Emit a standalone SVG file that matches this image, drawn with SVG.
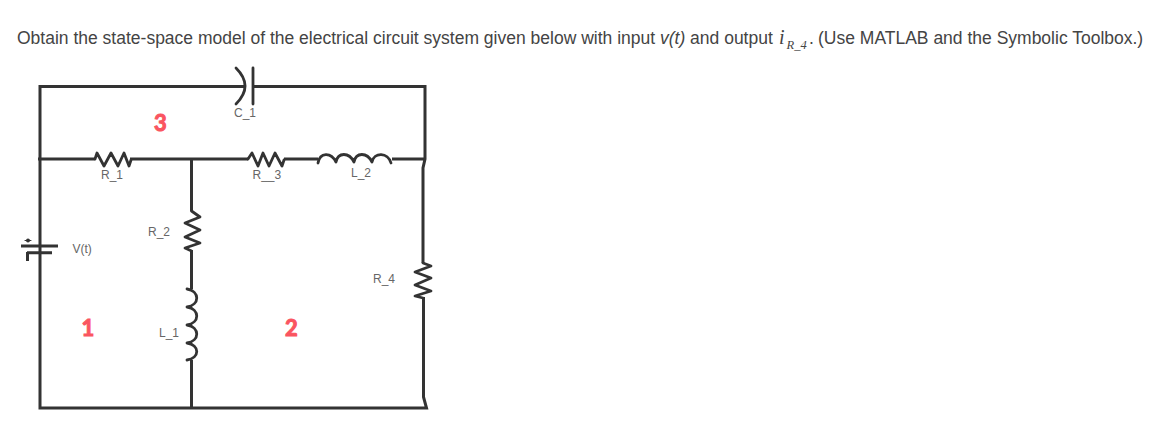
<svg xmlns="http://www.w3.org/2000/svg" width="1159" height="440" viewBox="0 0 1159 440">
<style>
.w{fill:none;stroke:#333;stroke-width:3;stroke-linejoin:miter;stroke-linecap:butt}
.c{fill:none;stroke:#333;stroke-width:2.8;stroke-linecap:round;stroke-linejoin:round}
.l{font-family:"Liberation Sans",Arial,sans-serif;font-size:12px;fill:#666}
.n{font-family:Lato,sans-serif;font-weight:700;font-size:22px;fill:#fa5560;stroke:#fa5560;stroke-width:1;text-anchor:middle}
.q{font-family:"Liberation Sans",Arial,sans-serif;font-size:17.5px;fill:#444}
.m{font-family:"Liberation Serif",serif;font-style:italic;fill:#444}
</style>
<rect width="1159" height="440" fill="#fff"/>
<g id="question">
<text class="q" x="17" y="44">Obtain the state-space model of the electrical circuit system given below with input <tspan font-style="italic">v(t)</tspan> and output</text>
<text class="m" x="779" y="44" font-size="20">i</text>
<text class="m" x="786.500" y="49" font-size="12.500">R_4</text>
<text class="q" x="809" y="44">.</text>
<text class="q" x="818" y="44">(Use MATLAB and the Symbolic Toolbox.)</text>
</g>
<g id="connectors">
<path class="w" d="M245 86.500H38.500M40 86.500V408H426.500L423.500 397V297M38 159H95M130 159H191.500M284 159H318M392 159H425M253 86.500H425V159L423 168V263M191.500 159V211M191.500 250V289M191.500 360V408M248 159H191.500"/>
</g>
<g id="C_1">
<path class="c" d="M236 68Q254 86 236 104"/>
<path class="c" d="M253 68V104"/>
<text class="l" x="234" y="117">C_1</text>
</g>
<g id="R_1">
<path class="c" d="M95 159L97 153L104 166L111 153L118 166L124 153L129 166L131 160"/>
<text class="l" x="101" y="179">R_1</text>
</g>
<g id="R_3">
<path class="c" d="M248 159L252 153L258 166L263 153L269 166L275 153L282 166L284 160"/>
<text class="l" x="252.500" y="179">R__3</text>
</g>
<g id="L_2">
<path class="c" d="M318 163C320 152 331 152 336 162C338 152 349 152 354 162C356 152 367 152 372 162C374 152 388 152 391 163"/>
<text class="l" x="351" y="177">L_2</text>
</g>
<g id="R_2">
<path class="c" d="M191.500 211L200 217L185 223L200 230L185 237L200 243L185 248L191.500 251"/>
<text class="l" x="148" y="236">R_2</text>
</g>
<g id="L_1">
<path class="c" d="M187 289C200 291 200 305 187 307C200 309 200 323 187 325C200 327 200 341 187 343C200 345 200 358 187 360"/>
<text class="l" x="159" y="337">L_1</text>
</g>
<g id="V">
<path class="w" d="M21 246H58M27 252.700H52M27.500 252V261"/>
<circle cx="28" cy="240.500" r="2" fill="#333"/>
<path class="c" d="M25 240.500H31" style="stroke-width:1"/>
<text class="l" x="72.500" y="253">V(t)</text>
</g>
<g id="R_4">
<path class="c" d="M423 263L431 266L415 272L431 278L415 285L431 291L415 296L423 298"/>
<text class="l" x="373" y="283">R_4</text>
</g>
<g id="labels">
<text class="n" x="160.500" y="130.500">3</text>
<text class="n" x="88" y="336">1</text>
<text class="n" x="291.500" y="336">2</text>
</g>
</svg>
